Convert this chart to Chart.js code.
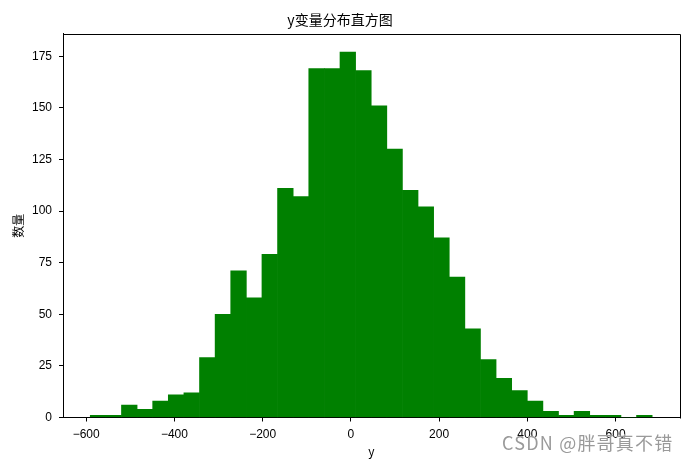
<!DOCTYPE html>
<html>
<head>
<meta charset="utf-8">
<script src="https://cdn.jsdelivr.net/npm/chart.js@4/dist/chart.umd.min.js"></script>
<style>
  html, body { margin: 0; padding: 0; background: #fff; }
  #wrap { position: relative; width: 692px; height: 464px; }
  #wm { position: absolute; left: 502px; top: 431px; font-family: "Noto Sans CJK SC", sans-serif; font-size: 18px; line-height: 22px; color: #9a9a9a; white-space: nowrap; letter-spacing: 1.2px; text-shadow: 0 0 1px #fff; }
</style>
</head>
<body>
<div id="wrap">
  <canvas id="c" width="692" height="464"></canvas>
  <div id="wm">CSDN @胖哥真不错</div>
</div>
<script>
// Histogram data
const binStart = -590.8;
const binWidth = 35.38;
const counts = [1, 1, 6, 4, 8, 11, 12, 29, 50, 71, 58, 79, 111, 107, 169, 169, 177, 168, 151, 130, 110, 102, 87, 68, 43, 28, 19, 13, 8, 3, 1, 3, 1, 1, 0, 1];
const xTicks = [-600, -400, -200, 0, 200, 400, 600];
const yTicks = [0, 25, 50, 75, 100, 125, 150, 175];
const titleText = 'y变量分布直方图';
const xLabel = 'y';
const yLabel = '数量';

const points = counts.map((c, i) => ({ x: binStart + binWidth * (i + 0.5), y: c }));

const frame = {
  id: 'frame',
  afterDatasetsDraw(chart) {
    const a = chart.chartArea, ctx = chart.ctx;
    const l = Math.round(a.left) + 0.5, t = Math.round(a.top) + 0.5;
    const r = Math.round(a.right) + 0.5, b = Math.round(a.bottom) + 0.5;
    ctx.save();
    ctx.strokeStyle = '#000';
    ctx.lineWidth = 1;
    ctx.beginPath();
    ctx.moveTo(l, t); ctx.lineTo(r, t); ctx.lineTo(r, b);
    ctx.stroke();
    ctx.restore();
  }
};

const tickFont = { family: '"Liberation Sans", Arial, sans-serif', size: 12 };

new Chart(document.getElementById('c'), {
  type: 'bar',
  data: {
    datasets: [{
      data: points,
      backgroundColor: '#008000',
      borderWidth: 0,
      barPercentage: 1.0,
      categoryPercentage: 1.0,
      grouped: false
    }]
  },
  options: {
    responsive: false,
    animation: false,
    devicePixelRatio: 1,
    layout: { padding: { left: 0, right: 12, top: 0, bottom: 0 } },
    plugins: {
      legend: { display: false },
      tooltip: { enabled: false },
      title: {
        display: true,
        text: titleText,
        color: '#000',
        font: { family: '"Noto Sans CJK SC", sans-serif', size: 14, weight: 'normal' },
        padding: { top: 11, bottom: 6 }
      }
    },
    scales: {
      x: {
        type: 'linear',
        min: -652.6,
        max: 746,
        offset: false,
        afterBuildTicks: s => { s.ticks = xTicks.map(v => ({ value: v })); },
        afterFit: s => { s.height = 46.5; },
        ticks: { color: '#000', font: tickFont, padding: 6, maxRotation: 0, autoSkip: false,
                 callback: v => (v < 0 ? '\u2212' + Math.abs(v) : String(v)) },
        grid: { display: true, offset: false, drawOnChartArea: false, drawTicks: true, tickLength: 4, color: '#000', tickWidth: 1 },
        border: { display: true, color: '#000', width: 1 },
        title: { display: true, text: xLabel, color: '#000', font: { family: '"Noto Sans CJK SC", sans-serif', size: 12 }, padding: { top: 0, bottom: 5 } }
      },
      y: {
        type: 'linear',
        min: 0,
        max: 185.85,
        afterBuildTicks: s => { s.ticks = yTicks.map(v => ({ value: v })); },
        afterFit: s => { s.width = 63; },
        ticks: { color: '#000', font: tickFont, padding: 7, autoSkip: false },
        grid: { display: true, offset: false, drawOnChartArea: false, drawTicks: true, tickLength: 4, color: '#000', tickWidth: 1 },
        border: { display: true, color: '#000', width: 1 },
        title: { display: true, text: yLabel, color: '#000', font: { family: '"Noto Sans CJK SC", sans-serif', size: 12 }, padding: { top: 11, bottom: 0 } }
      }
    }
  },
  plugins: [frame]
});
</script>
</body>
</html>
